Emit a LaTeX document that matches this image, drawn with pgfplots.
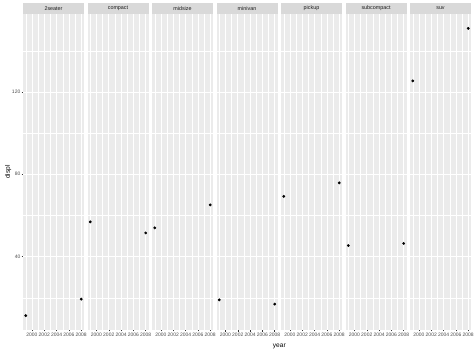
\documentclass[border=0pt]{standalone}
\usepackage{fontspec}
\setmainfont{Liberation Sans}
\usepackage{pgfplots}
\pgfplotsset{compat=1.18}
\usepgfplotslibrary{groupplots}
\definecolor{panelbg}{HTML}{EBEBEB}
\definecolor{stripbg}{HTML}{D9D9D9}
\definecolor{ticklab}{HTML}{4D4D4D}
\definecolor{tickcol}{HTML}{333333}
\definecolor{striptext}{HTML}{1A1A1A}
\begin{document}
\begin{tikzpicture}
\begin{groupplot}[
  group style={group size=7 by 1, horizontal sep=3.5bp},
  width=61bp, height=316bp, scale only axis,
  xmin=1998.55, xmax=2008.45, ymin=4.4, ymax=157.8,
  xtick={2000,2002,2004,2006,2008},
  minor xtick={1999,2001,2003,2005,2007},
  ytick={40,80,120}, minor ytick={20,60,100,140},
  xtick pos=bottom, ytick pos=left,
  grid=both,
  major grid style={white, line width=0.55bp},
  minor grid style={white, line width=0.28bp},
  axis background/.style={fill=panelbg},
  axis line style={draw=none},
  tick align=outside,
  major tick length=1.5bp, minor tick length=0bp,
  major tick style={tickcol, line width=0.5bp},
  /pgf/number format/assume math mode=true,
  /pgf/number format/1000 sep={},
  tick label style={font=\fontsize{5.0}{6}\selectfont, text=ticklab, inner sep=1bp},
  every axis title shift=0pt,
  title style={at={(rel axis cs:0.5,1)}, anchor=south, fill=stripbg,
    minimum width=61bp, minimum height=10.7bp, inner sep=0pt,
    font=\fontsize{5.4}{6}\selectfont, text=striptext},
  label style={font=\fontsize{6.6}{7.5}\selectfont, text=black},
]
\nextgroupplot[title={2seater}, ylabel={displ},
  ylabel style={at={(axis description cs:-0.245,0.5)}, anchor=center}]
\addplot[only marks, mark=*, mark size=1.2bp, black] coordinates {(1999,11.4) (2008,19.4)};
\nextgroupplot[title={compact}, yticklabels={}, every major y tick/.append style={draw=none}]
\addplot[only marks, mark=*, mark size=1.2bp, black] coordinates {(1999,56.9) (2008,51.5)};
\nextgroupplot[title={midsize}, yticklabels={}, every major y tick/.append style={draw=none}]
\addplot[only marks, mark=*, mark size=1.2bp, black] coordinates {(1999,54.0) (2008,65.1)};
\nextgroupplot[title={minivan}, yticklabels={}, every major y tick/.append style={draw=none}, xlabel={year},
  xlabel style={at={(axis description cs:1.03,0)}, anchor=center, yshift=-16bp}]
\addplot[only marks, mark=*, mark size=1.2bp, black] coordinates {(1999,19.0) (2008,17.0)};
\nextgroupplot[title={pickup}, yticklabels={}, every major y tick/.append style={draw=none}]
\addplot[only marks, mark=*, mark size=1.2bp, black] coordinates {(1999,69.3) (2008,75.8)};
\nextgroupplot[title={subcompact}, yticklabels={}, every major y tick/.append style={draw=none}]
\addplot[only marks, mark=*, mark size=1.2bp, black] coordinates {(1999,45.4) (2008,46.4)};
\nextgroupplot[title={suv}, yticklabels={}, every major y tick/.append style={draw=none}]
\addplot[only marks, mark=*, mark size=1.2bp, black] coordinates {(1999,125.3) (2008,150.8)};
\end{groupplot}
\pgfresetboundingbox
\path[use as bounding box] ([xshift=-23bp,yshift=-23bp]group c1r1.south west) rectangle ([xshift=3bp,yshift=14bp]group c7r1.north east);
\end{tikzpicture}
\end{document}
